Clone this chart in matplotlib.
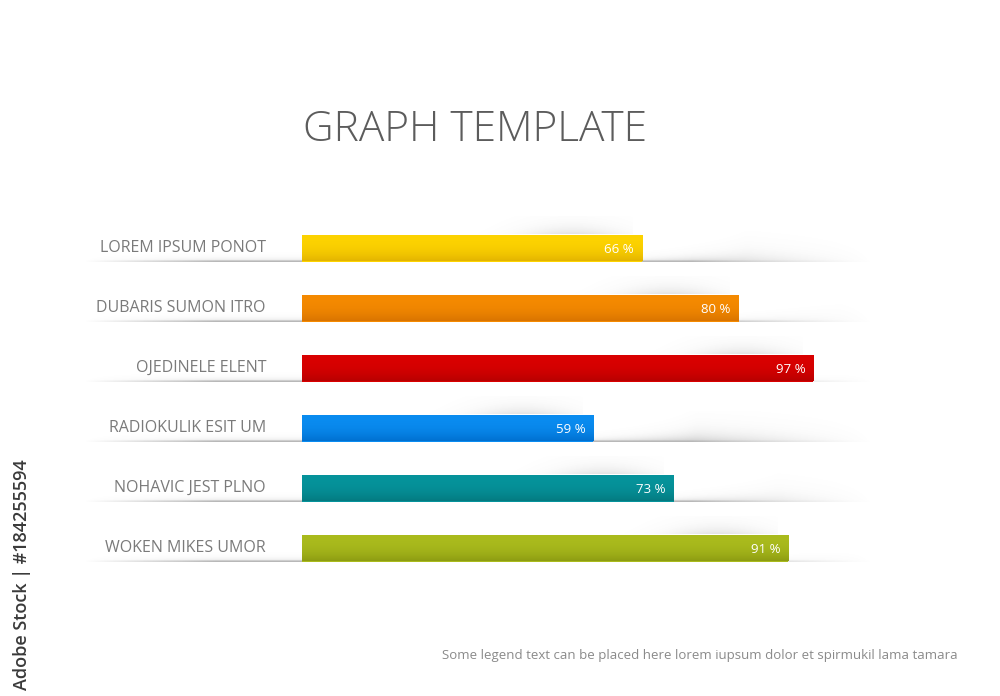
import numpy as np
import matplotlib
matplotlib.use("Agg")
import matplotlib.pyplot as plt
from matplotlib.colors import to_rgb

plt.rcParams['font.family'] = ['Open Sans', 'DejaVu Sans']

# data
labels = ["LOREM IPSUM PONOT", "DUBARIS SUMON ITRO", "OJEDINELE ELENT",
          "RADIOKULIK ESIT UM", "NOHAVIC JEST PLNO", "WOKEN MIKES UMOR"]
values = [66, 80, 97, 59, 73, 91]
# drawn bar lengths as they appear in the template (not exactly proportional)
bar_len = [65.4, 84.0, 98.3, 56.0, 71.5, 93.5]
colors = ["#fdd300", "#f58a00", "#d90000", "#0a8cf0", "#06939b", "#aabb1d"]
dark = ["#e3b400", "#d97400", "#b80000", "#0070d0", "#047a80", "#8d9c12"]

fig = plt.figure(figsize=(10, 6.96), dpi=100)
# axes: x in percent, 0 at bar start; one row per 60 px
ax = fig.add_axes([0.302, 1 - 578 / 696, 0.52, 360 / 696])
ax.set_xlim(0, 100)
ax.set_ylim(5.5, -0.5)
ax.axis("off")

h = 0.45
px_x = 100 / 520.0   # data units per pixel, x
px_y = 1 / 60.0      # data units per pixel, y

for i, (v, L) in enumerate(zip(values, bar_len)):
    bottom = i + h / 2
    top = i - h / 2

    # soft row shadow along the bottom edge
    x0, x1 = -42, 110
    nx, ny = 400, 60
    xs = np.linspace(x0, x1, nx)
    ys = np.linspace(0, 1, ny)[:, None]
    right = np.clip((xs - L) / 20, 0, 1) ** 0.7
    env = np.clip((xs - x0) / 25, 0, 1) * np.clip((x1 - xs) / 35, 0, 1) ** 1.3
    k = 14 - 10 * right          # tall fade right of the bar, short one elsewhere
    a = np.exp((ys - 1) * k[None, :]) * env[None, :] * (0.3 + 0.08 * right[None, :])
    a[-3:, :] = 0.5 * env[None, :]
    img = np.zeros((ny, nx, 4))
    img[..., :3] = 0.45
    img[..., 3] = a
    ax.imshow(img, extent=(x0, x1, bottom + 1 * px_y, bottom - 30 * px_y),
              aspect="auto", interpolation="bilinear", zorder=1, clip_on=False)

    # soft blob above the bar, just before its end
    bx0, bx1 = L - 170 * px_x, L - 10 * px_x
    gx = np.linspace(-1, 1, 200)
    gy = np.linspace(0, 1, 40)
    blob = np.outer(np.exp((gy - 1) * 2.5), np.exp(-((gx - 0.25) / 0.6) ** 2))
    img2 = np.zeros((40, 200, 4))
    img2[..., :3] = 0.45
    img2[..., 3] = blob * 0.2
    ax.imshow(img2, extent=(bx0, bx1, top, top - 18 * px_y),
              aspect="auto", interpolation="bilinear", zorder=2, clip_on=False)

    # the bar with a vertical gradient
    bar = ax.barh(i, L, height=h, left=0, color=colors[i], zorder=3)[0]
    c0 = np.array(to_rgb(colors[i]))
    c1 = np.array(to_rgb(dark[i]))
    t = np.linspace(0, 1, 60) ** 2.5
    grad = c0[None, :] * (1 - t[:, None]) + c1[None, :] * t[:, None]
    gimg = np.repeat(grad[:, None, :], 2, axis=1)
    im = ax.imshow(gimg, extent=(0, L, bottom, top), aspect="auto",
                   interpolation="bilinear", zorder=4)
    im.set_clip_path(bar)

    ax.text(L - 8 * px_x, i + 0.02, f"{v} %", color="white", fontsize=9.5,
            ha="right", va="center", zorder=5)
    ax.text(-36 * px_x, i + 0.0, labels[i], color="#7a7a7a", fontsize=11.5,
            ha="right", va="center", zorder=5, clip_on=False)

ax.set_xlim(0, 100)
ax.set_ylim(5.5, -0.5)

fig.text(0.303, 1 - 130 / 696, "GRAPH TEMPLATE", fontsize=30.5, fontweight="light",
         color="#5c5c5c", ha="left", va="center")
fig.text(0.958, 1 - 656 / 696,
         "Some legend text can be placed here lorem iupsum dolor et spirmukil lama tamara",
         fontsize=9.5, color="#8a8a8a", ha="right", va="center")
fig.text(0.022, 1 - 575 / 696, "Adobe Stock | #184255594", fontsize=13,
         fontweight="semibold", color="#3a3a3a", rotation=90, ha="center", va="center")

fig.savefig("out.png", dpi=100, facecolor="white")
